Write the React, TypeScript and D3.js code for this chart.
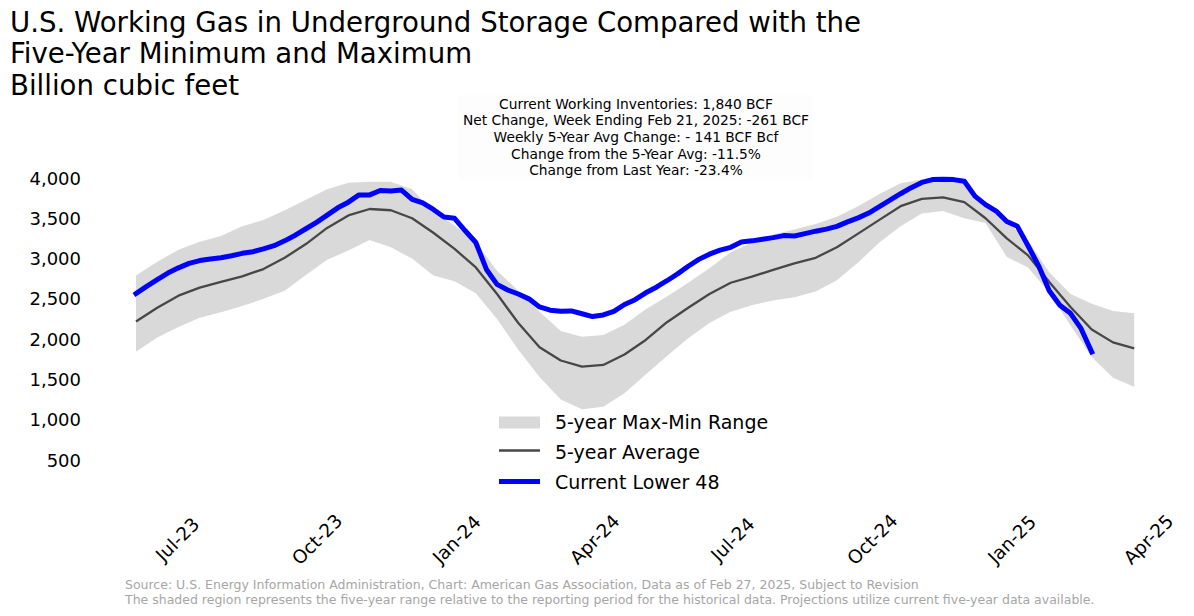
import React from "react";
import * as d3 from "d3";

// ---------- DATA ----------
// Weekly "Current Lower 48" inventories (Bcf), week ending Fridays from 2023-06-02 to 2025-02-21
const currentStart = "2023-06-02";
const currentValues = [
  2565, 2655, 2740, 2820, 2885, 2940, 2975, 2995, 3010, 3035, 3065, 3085, 3120, 3160, 3220, 3290,
  3370, 3450, 3540, 3630, 3700, 3790, 3790, 3845, 3840, 3850, 3735, 3690, 3610, 3515, 3500, 3345,
  3200, 2865, 2680, 2610, 2560, 2500, 2400, 2360, 2345, 2350, 2315, 2280, 2300, 2345, 2430, 2490,
  2575, 2645, 2725, 2810, 2905, 2990, 3055, 3105, 3140, 3205, 3220, 3240, 3260, 3285, 3280, 3310,
  3340, 3365, 3400, 3455, 3505, 3565, 3645, 3725, 3805, 3880, 3945, 3980, 3985, 3980, 3960, 3775,
  3670, 3590, 3460, 3400, 3160, 2910, 2600, 2420, 2320, 2130, 1840,
];

// Five-year band, every two weeks from 2023-06-02 to 2025-03-21
const bandStart = "2023-06-02";
const bandMax = [
  2790, 2960, 3110, 3210, 3280, 3400, 3480, 3600, 3730, 3860, 3940, 3955, 3955, 3860, 3580, 3410,
  3200, 2850, 2600, 2340, 2100, 2030, 2050, 2180, 2370, 2530, 2700, 2880, 3080, 3200, 3300, 3360,
  3430, 3520, 3650, 3800, 3935, 3980, 3995, 3950, 3670, 3460, 3220, 2830, 2560, 2440, 2350, 2320,
];
const bandAvg = [
  2220, 2390, 2540, 2640, 2710, 2780, 2870, 3010, 3180, 3380, 3535, 3615, 3600, 3500, 3320, 3120,
  2890, 2560, 2200, 1900, 1735, 1660, 1680, 1810, 1990, 2210, 2390, 2560, 2700, 2775, 2860, 2940,
  3010, 3140, 3310, 3480, 3650, 3740, 3760, 3700, 3500, 3250, 3040, 2710, 2400, 2120, 1960, 1885,
];
const bandMin = [
  1845, 2020, 2150, 2265, 2335, 2410, 2500, 2600, 2795, 2985, 3100, 3230, 3140, 3000, 2790, 2720,
  2570, 2250, 1870, 1530, 1250, 1130, 1160, 1330, 1560, 1790, 2010, 2200, 2340, 2420, 2480, 2520,
  2590, 2730, 2950, 3200, 3400, 3560, 3590, 3500, 3440, 3020, 2890, 2580, 2170, 1780, 1520, 1410,
];

const yTicks = [500, 1000, 1500, 2000, 2500, 3000, 3500, 4000];
const xTickLabels = ["Jul-23", "Oct-23", "Jan-24", "Apr-24", "Jul-24", "Oct-24", "Jan-25", "Apr-25"];
const xTickDates = ["2023-07-01", "2023-10-01", "2024-01-01", "2024-04-01", "2024-07-01", "2024-10-01", "2025-01-01", "2025-04-01"];

const titleLines = [
  "U.S. Working Gas in Underground Storage Compared with the",
  "Five-Year Minimum and Maximum",
  "Billion cubic feet",
];
const infoLines = [
  "Current Working Inventories: 1,840 BCF",
  "Net Change, Week Ending Feb 21, 2025: -261 BCF",
  "Weekly 5-Year Avg Change: - 141 BCF Bcf",
  "Change from the 5-Year Avg: -11.5%",
  "Change from Last Year: -23.4%",
];
const legendLabels = ["5-year Max-Min Range", "5-year Average", "Current Lower 48"];
const footerLines = [
  "Source: U.S. Energy Information Administration, Chart: American Gas Association, Data as of Feb 27, 2025, Subject to Revision",
  "The shaded region represents the five-year range relative to the reporting period for the historical data. Projections utilize current five-year data available.",
];

// ---------- HELPERS ----------
const parse = (s: string) => new Date(s + "T00:00:00Z");
const addDays = (d: Date, n: number) => new Date(d.getTime() + n * 86400000);

const W = 1194;
const H = 616;
const FONT = "DejaVu Sans, sans-serif";

export default function App() {
  const x = d3.scaleUtc().domain([parse("2023-07-01"), parse("2025-04-01")]).range([180, 1150.9]);
  const y = d3.scaleLinear().domain([0, 4000]).range([500.3, 178]);

  const cStart = parse(currentStart);
  const current = currentValues.map((v, i) => ({ date: addDays(cStart, 7 * i), v }));
  const bStart = parse(bandStart);
  const band = bandAvg.map((v, i) => ({
    date: addDays(bStart, 14 * i),
    avg: v,
    max: bandMax[i],
    min: bandMin[i],
  }));

  const area = d3
    .area<any>()
    .x((d) => x(d.date))
    .y0((d) => y(d.min))
    .y1((d) => y(d.max));
  const avgLine = d3
    .line<any>()
    .x((d) => x(d.date))
    .y((d) => y(d.avg));
  const curLine = d3
    .line<any>()
    .x((d) => x(d.date))
    .y((d) => y(d.v));

  const legendX = 499;
  const legendRows = [422, 451.5, 481.5];

  return (
    <svg
      width={W}
      height={H}
      style={{ position: "absolute", left: 0, top: 0, background: "#fff" }}
      fontFamily={FONT}
    >
      <rect x={0} y={0} width={W} height={H} fill="#fff" />
      {/* Title */}
      {titleLines.map((t, i) => (
        <text key={i} x={10} y={31.7 + i * 31.7} fontSize={27.6} fill="#000">
          {t}
        </text>
      ))}

      {/* Band and lines */}
      <path d={area(band) || ""} fill="#d9d9d9" stroke="none" />
      <path d={avgLine(band) || ""} fill="none" stroke="#474747" strokeWidth={2.3} strokeLinejoin="round" />
      <path
        d={curLine(current) || ""}
        fill="none"
        stroke="#0000ff"
        strokeWidth={5}
        strokeLinejoin="round"
        strokeLinecap="square"
      />

      {/* Info box */}
      <rect x={458} y={95} width={355} height={84} fill="#fdfdfd" />
      {infoLines.map((t, i) => (
        <text key={i} x={636} y={108.8 + i * 16.6} fontSize={13.8} textAnchor="middle" fill="#000">
          {t}
        </text>
      ))}

      {/* Y axis tick labels */}
      {yTicks.map((t) => (
        <text
          key={t}
          x={81}
          y={y(t)}
          fontSize={18}
          textAnchor="end"
          dominantBaseline="central"
          fill="#000"
        >
          {d3.format(",")(t)}
        </text>
      ))}

      {/* X axis tick labels (rotated 45) */}
      {xTickDates.map((ds, i) => {
        const tx = x(parse(ds)) - 2.5;
        const lab = xTickLabels[i];
        const w = lab.length * 10.6;
        const cy = 512 + ((w + 14) * 0.7071) / 2;
        return (
          <text
            key={ds}
            x={tx}
            y={cy}
            fontSize={18.5}
            textAnchor="middle"
            dominantBaseline="central"
            transform={`rotate(-45, ${tx}, ${cy})`}
            fill="#000"
          >
            {lab}
          </text>
        );
      })}

      {/* Legend */}
      <rect x={legendX} y={416.5} width={41} height={12} fill="#d9d9d9" />
      <line x1={legendX} x2={legendX + 41} y1={legendRows[1] - 1} y2={legendRows[1] - 1} stroke="#474747" strokeWidth={2.5} />
      <line x1={legendX} x2={legendX + 41} y1={legendRows[2]} y2={legendRows[2]} stroke="#0000ff" strokeWidth={5} />
      {legendLabels.map((t, i) => (
        <text key={t} x={555} y={legendRows[i]} fontSize={19} dominantBaseline="central" fill="#000">
          {t}
        </text>
      ))}

      {/* Footer */}
      {footerLines.map((t, i) => (
        <text key={i} x={125} y={589 + i * 15} fontSize={12.5} fill="#a6a6a6">
          {t}
        </text>
      ))}
    </svg>
  );
}
